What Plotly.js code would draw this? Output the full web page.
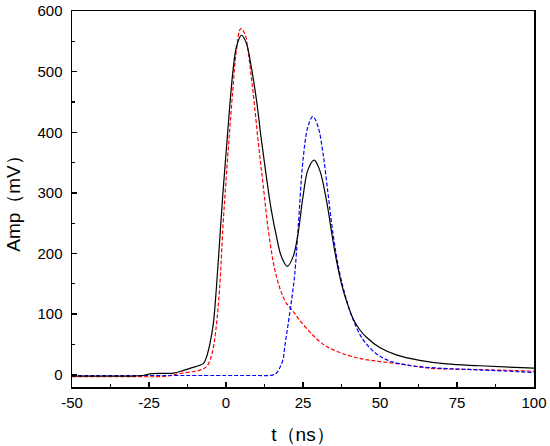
<!DOCTYPE html>
<html>
<head>
<meta charset="utf-8">
<script src="https://cdn.plot.ly/plotly-3.0.1.min.js"></script>
<style>html,body{margin:0;padding:0;background:#fff;}#chart{width:550px;height:446px;}</style>
</head>
<body>
<div id="chart"></div>
<script>
// Measured signal (black, solid)
const measT = [-50, -40, -30, -27, -24, -20, -17, -14, -11, -9, -7.3, -6.3, -5.2, -4.1, -3.1, -2.05, -1, 0.1, 1.2, 2.3, 3.4, 5.0, 6.6, 8.2, 9.9, 11.5, 13.1, 14.7, 16.4, 18.0, 19.9, 21.8, 23.4, 25, 26.6, 28.6, 30.4, 32.6, 34.7, 36.0, 37.5, 39.1, 41.5, 43.5, 45.6, 49.9, 55.3, 62.9, 71.6, 82.4, 100];
const measV = [-2, -2, -2, -1, 2, 2.5, 3, 7, 12, 15, 19, 30, 52, 85, 145, 222, 300, 371, 442, 503, 541, 560, 547, 508, 453, 387, 327, 272, 228, 195, 179, 195, 233, 294, 338, 354, 338, 288, 222, 185, 150, 122, 90, 74, 62, 45, 33, 24, 18, 15, 11];

// First pulse fit (red, dashed)
const fit1T = [-50, -30, -20, -17.6, -14.4, -9, -6.3, -4.5, -3.3, -2.05, -1.0, 0.1, 1.2, 2.3, 3.4, 4.8, 6.1, 7.1, 8.2, 9.3, 10.4, 11.5, 12.6, 13.6, 15.3, 16.4, 17.4, 18.5, 19.6, 21.8, 23.9, 27.2, 30.4, 33.7, 39.1, 44.5, 49.9, 56.4, 66.1, 77, 87.8, 100];
const fit1V = [-3, -3, -2.5, -0.5, 2.7, 7, 13.7, 36, 74, 145, 244, 327, 404, 475, 536, 571, 563, 536, 492, 442, 387, 338, 288, 244, 187, 162, 144, 129, 118, 105, 90, 71, 55, 44, 33, 26, 22, 18, 11, 9.3, 8, 6];

// Second pulse fit (blue, dashed)
const fit2T = [-50, 0, 10, 15, 16.4, 17.4, 18.5, 19.1, 20.7, 21.6, 22.3, 23.4, 25, 26.6, 28.2, 29.9, 31.5, 33.1, 34.7, 36.9, 39.1, 41.2, 44.5, 48.8, 53.1, 60.7, 71.6, 82.4, 100];
const fit2V = [-1, -1, -1, -0.5, 3, 11, 25, 47, 102, 135, 165, 240, 354, 409, 426, 409, 365, 300, 234, 168, 124, 92, 58, 35, 23, 14.8, 10.4, 8.2, 4];

const xTicks = [-50, -25, 0, 25, 50, 75, 100];
const yTicks = [0, 100, 200, 300, 400, 500, 600];

const FONT = 'Liberation Sans, Arial, Helvetica, sans-serif';

const traces = [
  {x: fit1T, y: fit1V, mode: 'lines', name: 'fit 1',
   line: {color: '#ff0000', width: 1.2, dash: '4px,2px', shape: 'spline', smoothing: 1}},
  {x: fit2T, y: fit2V, mode: 'lines', name: 'fit 2',
   line: {color: '#0000ff', width: 1.2, dash: '4px,2px', shape: 'spline', smoothing: 1}},
  {x: measT, y: measV, mode: 'lines', name: 'signal',
   line: {color: '#000000', width: 1.2, shape: 'spline', smoothing: 1}}
];

const axisCommon = {
  showgrid: false, zeroline: false, showline: true, linecolor: '#000', linewidth: 1.5,
  mirror: true, ticks: 'inside', ticklen: 5, tickwidth: 1.5, tickcolor: '#000',
  tickfont: {family: FONT, size: 15, color: '#000'}
};

const layout = {
  width: 550, height: 446,
  margin: {l: 72, r: 16, t: 11, b: 59},
  paper_bgcolor: '#fff', plot_bgcolor: '#fff',
  showlegend: false,
  font: {family: FONT, color: '#000'},
  xaxis: Object.assign({}, axisCommon, {
    range: [-50, 100], autorange: false, ticklabelstandoff: 1,
    tickmode: 'array', tickvals: xTicks, ticktext: xTicks.map(String),
    minor: {dtick: 12.5, tick0: -50, ticks: 'inside', ticklen: 3, tickwidth: 1.2, tickcolor: '#000', showgrid: false},
    title: {text: 't（ns）', font: {family: FONT, size: 19, color: '#000'}, standoff: 18}
  }),
  yaxis: Object.assign({}, axisCommon, {
    range: [-20, 600], autorange: false, ticklabelstandoff: 5,
    tickmode: 'array', tickvals: yTicks, ticktext: yTicks.map(String),
    minor: {dtick: 50, tick0: 0, ticks: 'inside', ticklen: 3, tickwidth: 1.2, tickcolor: '#000', showgrid: false},
    title: {text: 'Amp（mV）', font: {family: FONT, size: 19, color: '#000'}, standoff: 12}
  })
};

Plotly.newPlot('chart', traces, layout, {staticPlot: true, displayModeBar: false});
</script>
</body>
</html>
